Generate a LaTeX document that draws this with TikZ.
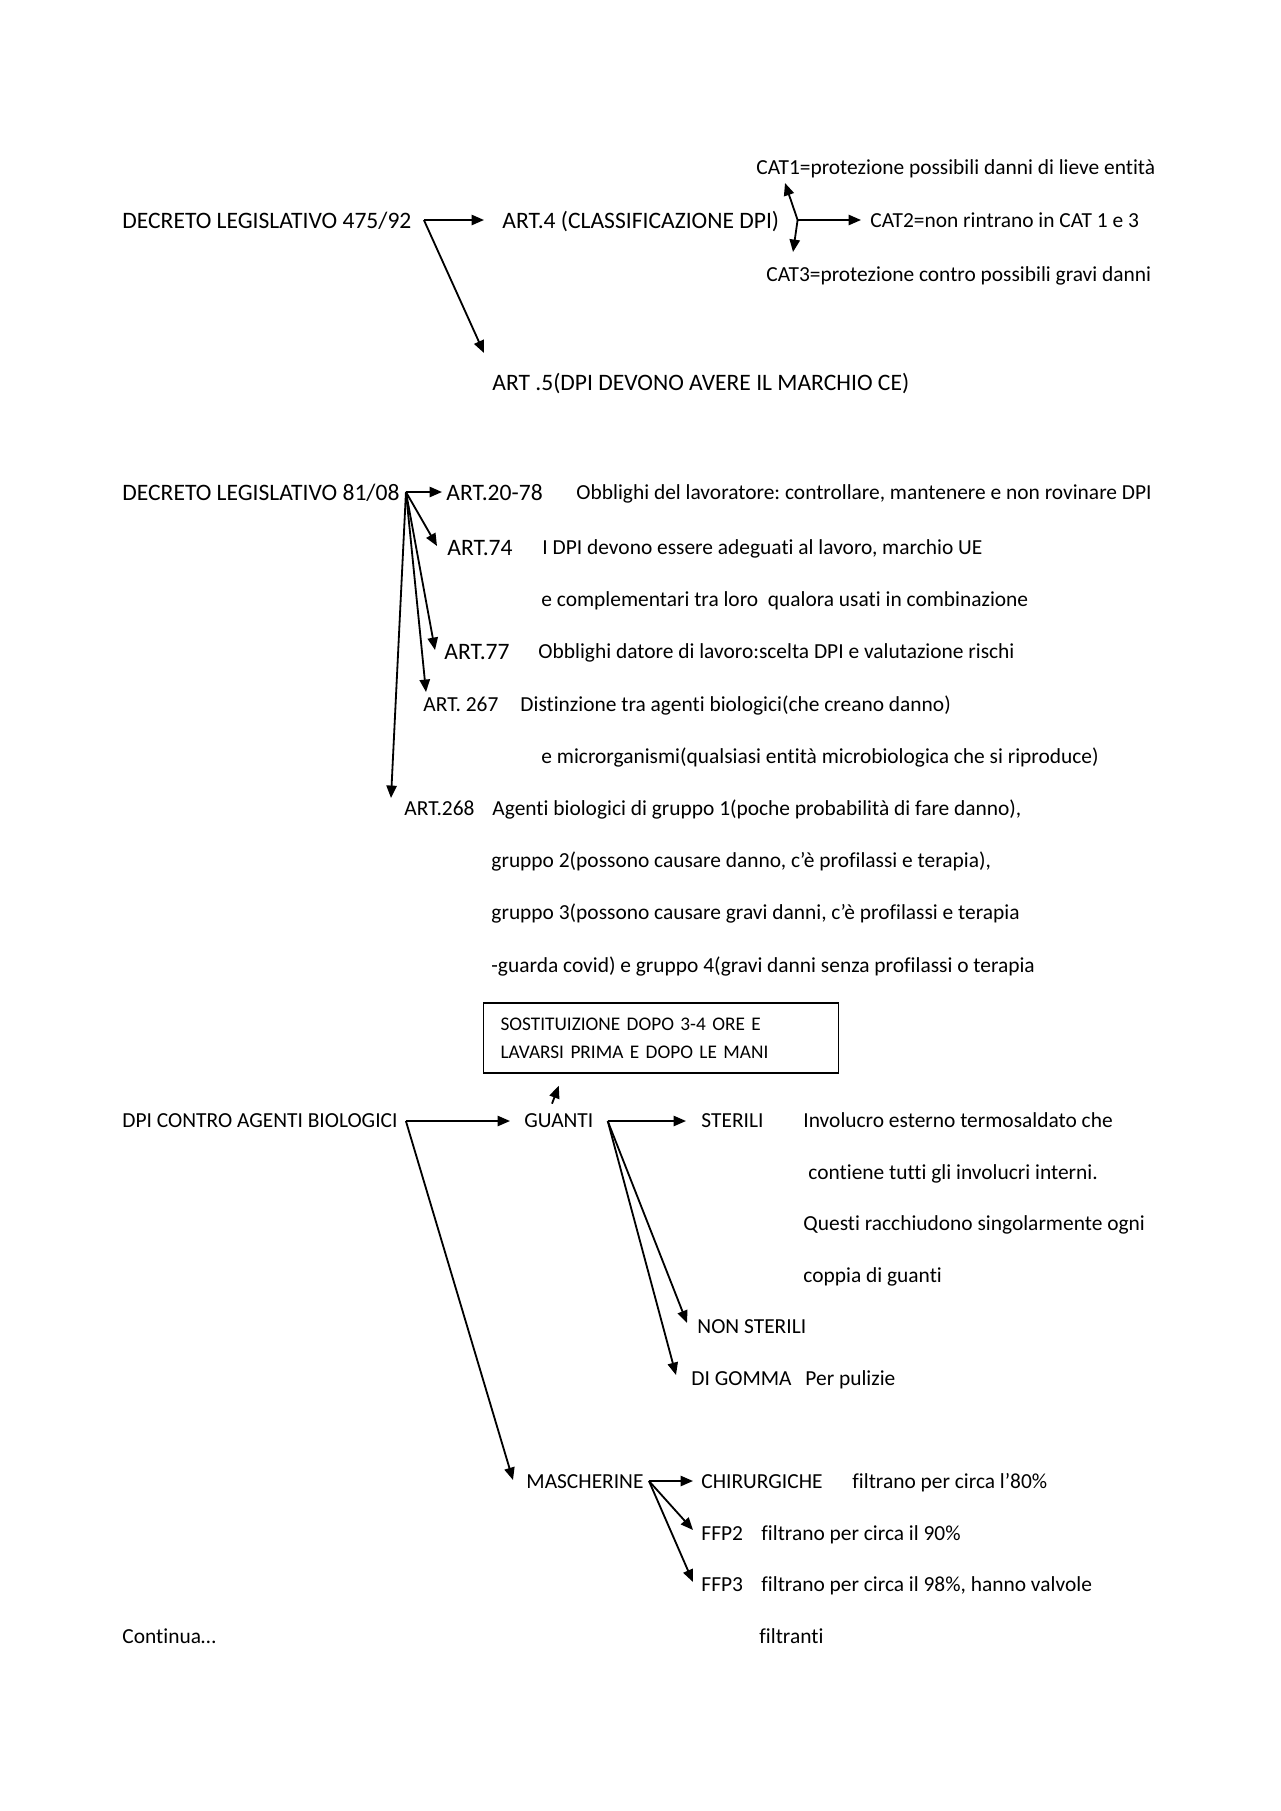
\documentclass[tikz,border=0pt]{standalone}
\usepackage{fontspec}
\setmainfont{Carlito}[Ligatures={NoCommon}]
\usetikzlibrary{arrows.meta,calc}
\frenchspacing

\begin{document}
\begin{tikzpicture}[
    x=0.1640625mm, y=-0.1640625mm,
    >={Triangle[length=5.8pt,width=4.8pt]},
    big/.style={anchor=base west, inner sep=0pt, font=\fontsize{11}{13}\selectfont},
    txt/.style={anchor=base west, inner sep=0pt, font=\fontsize{10}{12}\selectfont},
    note/.style={
        rectangle, draw, line width=0.8pt,
        minimum width=165.6pt, minimum height=32.6pt,
        text width=149.8pt, inner xsep=7.9pt, align=left,
        font=\fontsize{9}{13}\selectfont
    },
    arrow/.style={->, line width=0.85pt}
]
\useasboundingbox (0,0) rectangle (1280,1811);

% D.Lgs. 475/92
\node[big] (d475) at (122,228) {DECRETO LEGISLATIVO 475/92};
\node[big] (art4) at (502,228) {ART.4 (CLASSIFICAZIONE DPI)};
\node[txt] (cat1) at (756,175) {CAT1=protezione possibili danni di lieve entità};
\node[txt] (cat2) at (870,227) {CAT2=non rintrano in CAT 1 e 3};
\node[txt] (cat3) at (766,281) {CAT3=protezione contro possibili gravi danni};
\node[big] (art5) at (492,390) {ART .5(DPI DEVONO AVERE IL MARCHIO CE)};

\coordinate (k475) at ($(d475.base east)+(12,-8)$);
\coordinate (kcat) at ($(art4.base east)+(18,-8)$);
\draw[arrow] (k475) -- ($(art4.base west)+(-18,-8)$);
\draw[arrow] (k475) -- ($(art5.base west)+(-8,-37)$);
\draw[arrow] (kcat) -- ($(cat1.base west)+(29,8)$);
\draw[arrow] (kcat) -- ($(cat2.base west)+(-9,-7)$);
\draw[arrow] (kcat) -- ($(cat3.base west)+(27,-29)$);

% D.Lgs. 81/08
\node[big] (d81) at (122,500) {DECRETO LEGISLATIVO 81/08};
\node[big] (a2078) at (446,500) {ART.20-78};
\node[txt] (t2078) at (576,499) {Obblighi del lavoratore: controllare, mantenere e non rovinare DPI};
\node[big] (a74) at (447,555) {ART.74};
\node[txt] (t74a) at (542,554) {I DPI devono essere adeguati al lavoro, marchio UE};
\node[txt] (t74b) at (541,606) {e complementari tra loro \ qualora usati in combinazione};
\node[big] (a77) at (444,659) {ART.77};
\node[txt] (t77) at (538,658) {Obblighi datore di lavoro:scelta DPI e valutazione rischi};
\node[txt] (a267) at (423,711) {ART. 267};
\node[txt] (t267a) at (520,711) {Distinzione tra agenti biologici(che creano danno)};
\node[txt] (t267b) at (541,763) {e microrganismi(qualsiasi entità microbiologica che si riproduce)};
\node[txt] (a268) at (404,815) {ART.268};
\node[txt] (t268a) at (492,815) {Agenti biologici di gruppo 1(poche probabilità di fare danno),};
\node[txt] (t268b) at (491,867) {gruppo 2(possono causare danno, c’è profilassi e terapia),};
\node[txt] (t268c) at (491,919) {gruppo 3(possono causare gravi danni, c’è profilassi e terapia};
\node[txt] (t268d) at (491,972) {-guarda covid) e gruppo 4(gravi danni senza profilassi o terapia};

\coordinate (k81) at ($(d81.base east)+(6,-8)$);
\draw[arrow] (k81) -- ($(a2078.base west)+(-4,-8)$);
\draw[arrow] (k81) -- ($(a74.base west)+(-10,-9)$);
\draw[arrow] (k81) -- ($(a77.base west)+(-9,-9)$);
\draw[arrow] (k81) -- ($(a267.base west)+(3,-19)$);
\draw[arrow] (k81) -- ($(a268.base west)+(-13,-17)$);

% DPI contro agenti biologici
\node[note] (swap) at (661,1038) {SOSTITUIZIONE DOPO 3-4 ORE E\\LAVARSI PRIMA E DOPO LE MANI};
\node[txt] (dbio) at (122,1127) {DPI CONTRO AGENTI BIOLOGICI};
\node[txt] (guanti) at (524,1127) {GUANTI};
\node[txt] (sterili) at (701,1127) {STERILI};
\node[txt] (tst1) at (803,1127) {Involucro esterno termosaldato che};
\node[txt] (tst2) at (808,1179) {contiene tutti gli involucri interni.};
\node[txt] (tst3) at (803,1230) {Questi racchiudono singolarmente ogni};
\node[txt] (tst4) at (803,1282) {coppia di guanti};
\node[txt] (nonst) at (697,1333) {NON STERILI};
\node[txt] (gomma) at (691,1385) {DI GOMMA};
\node[txt] (pul) at (805,1385) {Per pulizie};
\node[txt] (masch) at (526,1488) {MASCHERINE};
\node[txt] (chir) at (701,1488) {CHIRURGICHE};
\node[txt] (tchir) at (852,1488) {filtrano per circa l’80\%};
\node[txt] (ffp2) at (701,1540) {FFP2};
\node[txt] (tffp2) at (761,1540) {filtrano per circa il 90\%};
\node[txt] (ffp3) at (701,1591) {FFP3};
\node[txt] (tffp3) at (761,1591) {filtrano per circa il 98\%, hanno valvole};
\node[txt] (filtr) at (759,1643) {filtranti};
\node[txt] (cont) at (122,1643) {Continua…};

\coordinate (kbio) at ($(dbio.base east)+(8,-6)$);
\coordinate (kg) at ($(guanti.base east)+(14,-6)$);
\coordinate (km) at ($(masch.base east)+(5,-7)$);
\draw[arrow] (kbio) -- ($(guanti.base west)+(-14,-6)$);
\draw[arrow] (kbio) -- ($(masch.base west)+(-13,-8)$);
\draw[arrow] ($(guanti.north west)+(28,-9)$) -- ($(swap.south west)+(76,12)$);
\draw[arrow] (kg) -- ($(sterili.base west)+(-15,-6)$);
\draw[arrow] (kg) -- ($(nonst.base west)+(-10,-10)$);
\draw[arrow] (kg) -- ($(gomma.base west)+(-15,-10)$);
\draw[arrow] (km) -- ($(chir.base west)+(-8,-7)$);
\draw[arrow] (km) -- ($(ffp2.base west)+(-8,-10)$);
\draw[arrow] (km) -- ($(ffp3.base west)+(-8,-9)$);

\end{tikzpicture}
\end{document}
